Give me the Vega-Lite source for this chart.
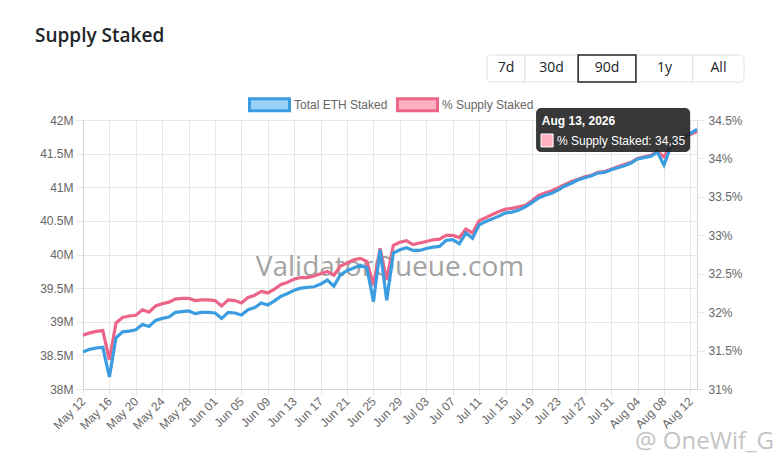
{
  "$schema": "https://vega.github.io/schema/vega-lite/v6.json",
  "width": 614,
  "height": 269,
  "autosize": {"type": "none"},
  "padding": {"left": 83, "top": 120, "right": 83, "bottom": 76},
  "background": "white",
  "title": {
    "text": "Supply Staked",
    "anchor": "start",
    "frame": "group",
    "font": "Open Sans",
    "fontSize": 19,
    "fontWeight": 600,
    "color": "#212529",
    "dx": -48,
    "dy": -4
  },
  "data": {
    "values": [
      {"date": "2026/05/12", "eth": 38.55, "pct": 31.70},
      {"date": "2026/05/13", "eth": 38.59, "pct": 31.73},
      {"date": "2026/05/14", "eth": 38.61, "pct": 31.75},
      {"date": "2026/05/15", "eth": 38.62, "pct": 31.76},
      {"date": "2026/05/16", "eth": 38.18, "pct": 31.38},
      {"date": "2026/05/17", "eth": 38.76, "pct": 31.86},
      {"date": "2026/05/18", "eth": 38.85, "pct": 31.93},
      {"date": "2026/05/19", "eth": 38.86, "pct": 31.95},
      {"date": "2026/05/20", "eth": 38.88, "pct": 31.96},
      {"date": "2026/05/21", "eth": 38.96, "pct": 32.03},
      {"date": "2026/05/22", "eth": 38.93, "pct": 32.00},
      {"date": "2026/05/23", "eth": 39.02, "pct": 32.08},
      {"date": "2026/05/24", "eth": 39.05, "pct": 32.11},
      {"date": "2026/05/25", "eth": 39.07, "pct": 32.13},
      {"date": "2026/05/26", "eth": 39.14, "pct": 32.17},
      {"date": "2026/05/27", "eth": 39.15, "pct": 32.18},
      {"date": "2026/05/28", "eth": 39.16, "pct": 32.18},
      {"date": "2026/05/29", "eth": 39.12, "pct": 32.15},
      {"date": "2026/05/30", "eth": 39.14, "pct": 32.16},
      {"date": "2026/05/31", "eth": 39.14, "pct": 32.16},
      {"date": "2026/06/01", "eth": 39.13, "pct": 32.15},
      {"date": "2026/06/02", "eth": 39.05, "pct": 32.08},
      {"date": "2026/06/03", "eth": 39.14, "pct": 32.16},
      {"date": "2026/06/04", "eth": 39.13, "pct": 32.15},
      {"date": "2026/06/05", "eth": 39.10, "pct": 32.12},
      {"date": "2026/06/06", "eth": 39.18, "pct": 32.19},
      {"date": "2026/06/07", "eth": 39.21, "pct": 32.22},
      {"date": "2026/06/08", "eth": 39.28, "pct": 32.27},
      {"date": "2026/06/09", "eth": 39.25, "pct": 32.25},
      {"date": "2026/06/10", "eth": 39.31, "pct": 32.30},
      {"date": "2026/06/11", "eth": 39.38, "pct": 32.36},
      {"date": "2026/06/12", "eth": 39.42, "pct": 32.39},
      {"date": "2026/06/13", "eth": 39.47, "pct": 32.43},
      {"date": "2026/06/14", "eth": 39.50, "pct": 32.45},
      {"date": "2026/06/15", "eth": 39.51, "pct": 32.45},
      {"date": "2026/06/16", "eth": 39.52, "pct": 32.47},
      {"date": "2026/06/17", "eth": 39.56, "pct": 32.50},
      {"date": "2026/06/18", "eth": 39.62, "pct": 32.53},
      {"date": "2026/06/19", "eth": 39.53, "pct": 32.48},
      {"date": "2026/06/20", "eth": 39.70, "pct": 32.60},
      {"date": "2026/06/21", "eth": 39.76, "pct": 32.64},
      {"date": "2026/06/22", "eth": 39.80, "pct": 32.68},
      {"date": "2026/06/23", "eth": 39.84, "pct": 32.70},
      {"date": "2026/06/24", "eth": 39.80, "pct": 32.66},
      {"date": "2026/06/25", "eth": 39.30, "pct": 32.35},
      {"date": "2026/06/26", "eth": 40.07, "pct": 32.83},
      {"date": "2026/06/27", "eth": 39.32, "pct": 32.42},
      {"date": "2026/06/28", "eth": 40.02, "pct": 32.87},
      {"date": "2026/06/29", "eth": 40.07, "pct": 32.91},
      {"date": "2026/06/30", "eth": 40.10, "pct": 32.93},
      {"date": "2026/07/01", "eth": 40.06, "pct": 32.88},
      {"date": "2026/07/02", "eth": 40.06, "pct": 32.90},
      {"date": "2026/07/03", "eth": 40.09, "pct": 32.92},
      {"date": "2026/07/04", "eth": 40.11, "pct": 32.94},
      {"date": "2026/07/05", "eth": 40.12, "pct": 32.95},
      {"date": "2026/07/06", "eth": 40.21, "pct": 33.00},
      {"date": "2026/07/07", "eth": 40.22, "pct": 33.00},
      {"date": "2026/07/08", "eth": 40.16, "pct": 32.97},
      {"date": "2026/07/09", "eth": 40.32, "pct": 33.08},
      {"date": "2026/07/10", "eth": 40.24, "pct": 33.03},
      {"date": "2026/07/11", "eth": 40.44, "pct": 33.19},
      {"date": "2026/07/12", "eth": 40.49, "pct": 33.23},
      {"date": "2026/07/13", "eth": 40.53, "pct": 33.27},
      {"date": "2026/07/14", "eth": 40.57, "pct": 33.31},
      {"date": "2026/07/15", "eth": 40.62, "pct": 33.34},
      {"date": "2026/07/16", "eth": 40.63, "pct": 33.35},
      {"date": "2026/07/17", "eth": 40.66, "pct": 33.37},
      {"date": "2026/07/18", "eth": 40.71, "pct": 33.39},
      {"date": "2026/07/19", "eth": 40.77, "pct": 33.45},
      {"date": "2026/07/20", "eth": 40.84, "pct": 33.52},
      {"date": "2026/07/21", "eth": 40.88, "pct": 33.55},
      {"date": "2026/07/22", "eth": 40.91, "pct": 33.58},
      {"date": "2026/07/23", "eth": 40.96, "pct": 33.62},
      {"date": "2026/07/24", "eth": 41.02, "pct": 33.66},
      {"date": "2026/07/25", "eth": 41.06, "pct": 33.70},
      {"date": "2026/07/26", "eth": 41.11, "pct": 33.73},
      {"date": "2026/07/27", "eth": 41.14, "pct": 33.76},
      {"date": "2026/07/28", "eth": 41.17, "pct": 33.78},
      {"date": "2026/07/29", "eth": 41.21, "pct": 33.82},
      {"date": "2026/07/30", "eth": 41.22, "pct": 33.83},
      {"date": "2026/07/31", "eth": 41.26, "pct": 33.86},
      {"date": "2026/08/01", "eth": 41.29, "pct": 33.89},
      {"date": "2026/08/02", "eth": 41.32, "pct": 33.92},
      {"date": "2026/08/03", "eth": 41.36, "pct": 33.95},
      {"date": "2026/08/04", "eth": 41.42, "pct": 34.00},
      {"date": "2026/08/05", "eth": 41.44, "pct": 34.02},
      {"date": "2026/08/06", "eth": 41.46, "pct": 34.04},
      {"date": "2026/08/07", "eth": 41.52, "pct": 34.09},
      {"date": "2026/08/08", "eth": 41.33, "pct": 34.02},
      {"date": "2026/08/09", "eth": 41.60, "pct": 34.16},
      {"date": "2026/08/10", "eth": 41.68, "pct": 34.23},
      {"date": "2026/08/11", "eth": 41.74, "pct": 34.28},
      {"date": "2026/08/12", "eth": 41.80, "pct": 34.31},
      {"date": "2026/08/13", "eth": 41.86, "pct": 34.35}
    ]
  },
  "layer": [
    {
      "data": {"values": [{}]},
      "mark": {"type": "text", "clip": false, "text": "ValidatorQueue.com", "font": "Open Sans", "fontSize": 28, "color": "#a3a3a3", "align": "center", "baseline": "middle"},
      "encoding": {
        "x": {
          "datum": {"year": 2026, "month": "Jun", "date": 27, "hours": 12},
          "type": "temporal",
          "scale": {"domain": [{"year": 2026, "month": "May", "date": 12}, {"year": 2026, "month": "Aug", "date": 13}]},
          "axis": {
            "title": null,
            "format": "%b %d",
            "tickCount": 60,
            "values": [
              {"year": 2026, "month": "May", "date": 12}, {"year": 2026, "month": "May", "date": 16},
              {"year": 2026, "month": "May", "date": 20}, {"year": 2026, "month": "May", "date": 24},
              {"year": 2026, "month": "May", "date": 28}, {"year": 2026, "month": "Jun", "date": 1},
              {"year": 2026, "month": "Jun", "date": 5}, {"year": 2026, "month": "Jun", "date": 9},
              {"year": 2026, "month": "Jun", "date": 13}, {"year": 2026, "month": "Jun", "date": 17},
              {"year": 2026, "month": "Jun", "date": 21}, {"year": 2026, "month": "Jun", "date": 25},
              {"year": 2026, "month": "Jun", "date": 29}, {"year": 2026, "month": "Jul", "date": 3},
              {"year": 2026, "month": "Jul", "date": 7}, {"year": 2026, "month": "Jul", "date": 11},
              {"year": 2026, "month": "Jul", "date": 15}, {"year": 2026, "month": "Jul", "date": 19},
              {"year": 2026, "month": "Jul", "date": 23}, {"year": 2026, "month": "Jul", "date": 27},
              {"year": 2026, "month": "Jul", "date": 31}, {"year": 2026, "month": "Aug", "date": 4},
              {"year": 2026, "month": "Aug", "date": 8}, {"year": 2026, "month": "Aug", "date": 12}
            ],
            "labelAngle": -45,
            "labelAlign": "right",
            "labelBaseline": "middle",
            "labelPadding": 4,
            "labelOverlap": false,
            "labelFlush": false,
            "grid": true,
            "tickSize": 6
          }
        },
        "y": {"datum": 39.8, "type": "quantitative", "scale": {"domain": [38, 42]}, "axis": null}
      }
    },
    {
      "mark": {"type": "line", "strokeWidth": 3.2},
      "encoding": {
        "x": {
          "field": "date",
          "type": "temporal",
          "scale": {"domain": [{"year": 2026, "month": "May", "date": 12}, {"year": 2026, "month": "Aug", "date": 13}]},
          "axis": {
            "title": null,
            "format": "%b %d",
            "tickCount": 60,
            "values": [
              {"year": 2026, "month": "May", "date": 12}, {"year": 2026, "month": "May", "date": 16},
              {"year": 2026, "month": "May", "date": 20}, {"year": 2026, "month": "May", "date": 24},
              {"year": 2026, "month": "May", "date": 28}, {"year": 2026, "month": "Jun", "date": 1},
              {"year": 2026, "month": "Jun", "date": 5}, {"year": 2026, "month": "Jun", "date": 9},
              {"year": 2026, "month": "Jun", "date": 13}, {"year": 2026, "month": "Jun", "date": 17},
              {"year": 2026, "month": "Jun", "date": 21}, {"year": 2026, "month": "Jun", "date": 25},
              {"year": 2026, "month": "Jun", "date": 29}, {"year": 2026, "month": "Jul", "date": 3},
              {"year": 2026, "month": "Jul", "date": 7}, {"year": 2026, "month": "Jul", "date": 11},
              {"year": 2026, "month": "Jul", "date": 15}, {"year": 2026, "month": "Jul", "date": 19},
              {"year": 2026, "month": "Jul", "date": 23}, {"year": 2026, "month": "Jul", "date": 27},
              {"year": 2026, "month": "Jul", "date": 31}, {"year": 2026, "month": "Aug", "date": 4},
              {"year": 2026, "month": "Aug", "date": 8}, {"year": 2026, "month": "Aug", "date": 12}
            ],
            "labelAngle": -45,
            "labelAlign": "right",
            "labelBaseline": "middle",
            "labelPadding": 4,
            "labelOverlap": false,
            "labelFlush": false,
            "grid": true,
            "tickSize": 6
          }
        },
        "y": {
          "field": "pct",
          "type": "quantitative",
          "scale": {"domain": [31, 34.5]},
          "axis": {"orient": "right", "title": null, "grid": false, "values": [31, 31.5, 32, 32.5, 33, 33.5, 34, 34.5], "labelExpr": "datum.value + '%'", "labelPadding": 4}
        },
        "color": {"datum": "% Supply Staked", "type": "nominal"}
      }
    },
    {
      "mark": {"type": "line", "strokeWidth": 3.2},
      "encoding": {
        "x": {"field": "date", "type": "temporal", "scale": {"domain": [{"year": 2026, "month": "May", "date": 12}, {"year": 2026, "month": "Aug", "date": 13}]}},
        "y": {
          "field": "eth",
          "type": "quantitative",
          "scale": {"domain": [38, 42]},
          "axis": {"orient": "left", "title": null, "grid": true, "values": [38, 38.5, 39, 39.5, 40, 40.5, 41, 41.5, 42], "labelExpr": "datum.value + 'M'", "labelPadding": 3}
        },
        "color": {
          "datum": "Total ETH Staked",
          "type": "nominal",
          "scale": {"domain": ["Total ETH Staked", "% Supply Staked"], "range": ["#3b9de0", "#ec6589"]},
          "legend": {
            "orient": "none",
            "legendX": 165,
            "legendY": -37,
            "direction": "horizontal",
            "title": null,
            "symbolType": "M-1,-0.3H1V0.3H-1Z",
            "symbolSize": 1600,
            "symbolStrokeWidth": 3,
            "labelFont": "Liberation Sans",
            "labelFontSize": 12,
            "labelColor": "#666666",
            "labelOffset": 3,
            "columnPadding": 3,
            "encode": {
              "symbols": {
                "update": {
                  "fill": {"signal": "datum.value === 'Total ETH Staked' ? '#9ad0f5' : '#ffb1c1'"},
                  "fillOpacity": {"value": 1}
                }
              }
            }
          }
        }
      }
    },
    {
      "data": {"values": [{}]},
      "mark": {"type": "rect", "clip": false, "fill": "#1c1c1c", "opacity": 0.88, "cornerRadius": 5},
      "encoding": {
        "x": {"datum": {"year": 2026, "month": "Jul", "date": 19, "hours": 15}, "type": "temporal", "scale": {"domain": [{"year": 2026, "month": "May", "date": 12}, {"year": 2026, "month": "Aug", "date": 13}]}},
        "x2": {"datum": {"year": 2026, "month": "Aug", "date": 11, "hours": 23}},
        "y": {"datum": 42.178, "type": "quantitative", "scale": {"domain": [38, 42]}, "axis": null},
        "y2": {"datum": 41.524}
      }
    },
    {
      "data": {"values": [{}]},
      "mark": {"type": "text", "clip": false, "text": "Aug 13, 2026", "font": "Liberation Sans", "fontSize": 12, "fontWeight": "bold", "color": "#ffffff", "align": "left", "baseline": "middle"},
      "encoding": {
        "x": {"datum": {"year": 2026, "month": "Jul", "date": 20, "hours": 12}, "type": "temporal", "scale": {"domain": [{"year": 2026, "month": "May", "date": 12}, {"year": 2026, "month": "Aug", "date": 13}]}},
        "y": {"datum": 41.985, "type": "quantitative", "scale": {"domain": [38, 42]}, "axis": null}
      }
    },
    {
      "data": {"values": [{}]},
      "mark": {"type": "rect", "clip": false, "fill": "#ffb1c1", "stroke": "#ffffff", "strokeWidth": 1},
      "encoding": {
        "x": {"datum": {"year": 2026, "month": "Jul", "date": 20, "hours": 9}, "type": "temporal", "scale": {"domain": [{"year": 2026, "month": "May", "date": 12}, {"year": 2026, "month": "Aug", "date": 13}]}},
        "x2": {"datum": {"year": 2026, "month": "Jul", "date": 22, "hours": 5}},
        "y": {"datum": 41.792, "type": "quantitative", "scale": {"domain": [38, 42]}, "axis": null},
        "y2": {"datum": 41.599}
      }
    },
    {
      "data": {"values": [{}]},
      "mark": {"type": "text", "clip": false, "text": "% Supply Staked: 34,35", "font": "Liberation Sans", "fontSize": 12, "color": "#ffffff", "align": "left", "baseline": "middle"},
      "encoding": {
        "x": {"datum": {"year": 2026, "month": "Jul", "date": 22, "hours": 19}, "type": "temporal", "scale": {"domain": [{"year": 2026, "month": "May", "date": 12}, {"year": 2026, "month": "Aug", "date": 13}]}},
        "y": {"datum": 41.688, "type": "quantitative", "scale": {"domain": [38, 42]}, "axis": null}
      }
    },
    {
      "data": {"values": [{}]},
      "mark": {"type": "rect", "clip": false, "fill": "#ffffff", "stroke": "#dee2e6", "strokeWidth": 1, "cornerRadiusTopLeft": 4, "cornerRadiusBottomLeft": 4},
      "encoding": {
        "x": {"datum": {"year": 2026, "month": "Jul", "date": 12, "hours": 5}, "type": "temporal", "scale": {"domain": [{"year": 2026, "month": "May", "date": 12}, {"year": 2026, "month": "Aug", "date": 13}]}},
        "x2": {"datum": {"year": 2026, "month": "Jul", "date": 17, "hours": 23}},
        "y": {"datum": 42.967, "type": "quantitative", "scale": {"domain": [38, 42]}, "axis": null},
        "y2": {"datum": 42.565}
      }
    },
    {
      "data": {"values": [{}]},
      "mark": {"type": "rect", "clip": false, "fill": "#ffffff", "stroke": "#dee2e6", "strokeWidth": 1},
      "encoding": {
        "x": {"datum": {"year": 2026, "month": "Jul", "date": 17, "hours": 23}, "type": "temporal", "scale": {"domain": [{"year": 2026, "month": "May", "date": 12}, {"year": 2026, "month": "Aug", "date": 13}]}},
        "x2": {"datum": {"year": 2026, "month": "Jul", "date": 26, "hours": 0}},
        "y": {"datum": 42.967, "type": "quantitative", "scale": {"domain": [38, 42]}, "axis": null},
        "y2": {"datum": 42.565}
      }
    },
    {
      "data": {"values": [{}]},
      "mark": {"type": "rect", "clip": false, "fill": "#ffffff", "stroke": "#dee2e6", "strokeWidth": 1},
      "encoding": {
        "x": {"datum": {"year": 2026, "month": "Aug", "date": 3, "hours": 18}, "type": "temporal", "scale": {"domain": [{"year": 2026, "month": "May", "date": 12}, {"year": 2026, "month": "Aug", "date": 13}]}},
        "x2": {"datum": {"year": 2026, "month": "Aug", "date": 12, "hours": 9}},
        "y": {"datum": 42.967, "type": "quantitative", "scale": {"domain": [38, 42]}, "axis": null},
        "y2": {"datum": 42.565}
      }
    },
    {
      "data": {"values": [{}]},
      "mark": {"type": "rect", "clip": false, "fill": "#ffffff", "stroke": "#dee2e6", "strokeWidth": 1, "cornerRadiusTopRight": 4, "cornerRadiusBottomRight": 4},
      "encoding": {
        "x": {"datum": {"year": 2026, "month": "Aug", "date": 12, "hours": 9}, "type": "temporal", "scale": {"domain": [{"year": 2026, "month": "May", "date": 12}, {"year": 2026, "month": "Aug", "date": 13}]}},
        "x2": {"datum": {"year": 2026, "month": "Aug", "date": 20, "hours": 3}},
        "y": {"datum": 42.967, "type": "quantitative", "scale": {"domain": [38, 42]}, "axis": null},
        "y2": {"datum": 42.565}
      }
    },
    {
      "data": {"values": [{}]},
      "mark": {"type": "rect", "clip": false, "fill": "#ffffff", "stroke": "#212529", "strokeWidth": 1.5},
      "encoding": {
        "x": {"datum": {"year": 2026, "month": "Jul", "date": 26, "hours": 0}, "type": "temporal", "scale": {"domain": [{"year": 2026, "month": "May", "date": 12}, {"year": 2026, "month": "Aug", "date": 13}]}},
        "x2": {"datum": {"year": 2026, "month": "Aug", "date": 3, "hours": 18}},
        "y": {"datum": 42.967, "type": "quantitative", "scale": {"domain": [38, 42]}, "axis": null},
        "y2": {"datum": 42.565}
      }
    },
    {
      "data": {"values": [{}]},
      "mark": {"type": "text", "clip": false, "text": "7d", "font": "Open Sans", "fontSize": 14, "color": "#212529", "align": "center", "baseline": "middle"},
      "encoding": {
        "x": {"datum": {"year": 2026, "month": "Jul", "date": 15, "hours": 2}, "type": "temporal", "scale": {"domain": [{"year": 2026, "month": "May", "date": 12}, {"year": 2026, "month": "Aug", "date": 13}]}},
        "y": {"datum": 42.766, "type": "quantitative", "scale": {"domain": [38, 42]}, "axis": null}
      }
    },
    {
      "data": {"values": [{}]},
      "mark": {"type": "text", "clip": false, "text": "30d", "font": "Open Sans", "fontSize": 14, "color": "#212529", "align": "center", "baseline": "middle"},
      "encoding": {
        "x": {"datum": {"year": 2026, "month": "Jul", "date": 21, "hours": 23}, "type": "temporal", "scale": {"domain": [{"year": 2026, "month": "May", "date": 12}, {"year": 2026, "month": "Aug", "date": 13}]}},
        "y": {"datum": 42.766, "type": "quantitative", "scale": {"domain": [38, 42]}, "axis": null}
      }
    },
    {
      "data": {"values": [{}]},
      "mark": {"type": "text", "clip": false, "text": "90d", "font": "Open Sans", "fontSize": 14, "color": "#212529", "align": "center", "baseline": "middle"},
      "encoding": {
        "x": {"datum": {"year": 2026, "month": "Jul", "date": 30, "hours": 9}, "type": "temporal", "scale": {"domain": [{"year": 2026, "month": "May", "date": 12}, {"year": 2026, "month": "Aug", "date": 13}]}},
        "y": {"datum": 42.766, "type": "quantitative", "scale": {"domain": [38, 42]}, "axis": null}
      }
    },
    {
      "data": {"values": [{}]},
      "mark": {"type": "text", "clip": false, "text": "1y", "font": "Open Sans", "fontSize": 14, "color": "#212529", "align": "center", "baseline": "middle"},
      "encoding": {
        "x": {"datum": {"year": 2026, "month": "Aug", "date": 8, "hours": 2}, "type": "temporal", "scale": {"domain": [{"year": 2026, "month": "May", "date": 12}, {"year": 2026, "month": "Aug", "date": 13}]}},
        "y": {"datum": 42.766, "type": "quantitative", "scale": {"domain": [38, 42]}, "axis": null}
      }
    },
    {
      "data": {"values": [{}]},
      "mark": {"type": "text", "clip": false, "text": "All", "font": "Open Sans", "fontSize": 14, "color": "#212529", "align": "center", "baseline": "middle"},
      "encoding": {
        "x": {"datum": {"year": 2026, "month": "Aug", "date": 16, "hours": 6}, "type": "temporal", "scale": {"domain": [{"year": 2026, "month": "May", "date": 12}, {"year": 2026, "month": "Aug", "date": 13}]}},
        "y": {"datum": 42.766, "type": "quantitative", "scale": {"domain": [38, 42]}, "axis": null}
      }
    },
    {
      "data": {"values": [{}]},
      "mark": {"type": "text", "clip": false, "text": "@ OneWif_G", "font": "Open Sans", "fontSize": 24, "color": "#c4c4c4", "align": "left", "baseline": "middle"},
      "encoding": {
        "x": {"datum": {"year": 2026, "month": "Aug", "date": 3, "hours": 15}, "type": "temporal", "scale": {"domain": [{"year": 2026, "month": "May", "date": 12}, {"year": 2026, "month": "Aug", "date": 13}]}},
        "y": {"datum": 37.212, "type": "quantitative", "scale": {"domain": [38, 42]}, "axis": null}
      }
    }
  ],
  "resolve": {"scale": {"y": "independent"}},
  "config": {
    "font": "Liberation Sans",
    "view": {"stroke": null},
    "axis": {
      "labelFont": "Liberation Sans",
      "labelFontSize": 12,
      "labelColor": "#666666",
      "gridColor": "#e6e6e6",
      "tickColor": "#e6e6e6",
      "domainColor": "#d4d4d4",
      "tickSize": 7
    },
    "axisX": {
      "labelOverlap": false,
      "labelFlush": false,
      "labelAngle": -45
    }
  }
}
